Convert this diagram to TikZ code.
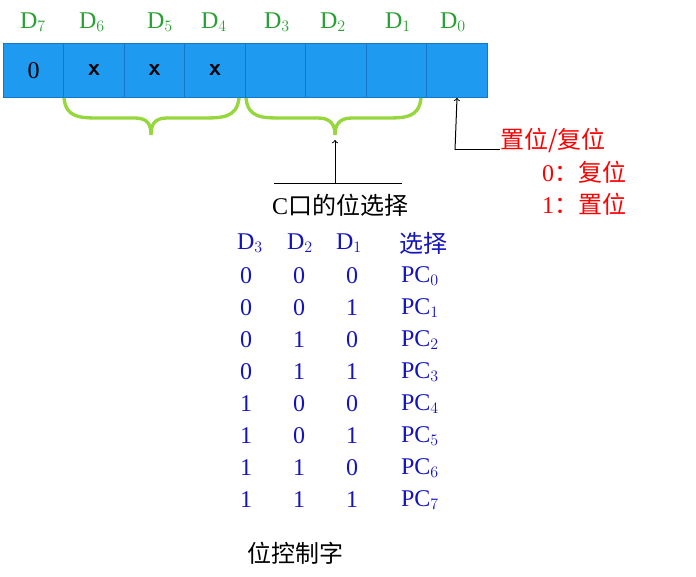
\documentclass[tikz,border=0pt]{standalone}
\usepackage{fontspec}
\setmainfont{Liberation Serif}
\newfontfamily\cjk{Noto Sans CJK SC}
\definecolor{dgreen}{RGB}{40,160,50}
\definecolor{cellblue}{RGB}{30,155,240}
\definecolor{bracegreen}{RGB}{150,215,60}
\definecolor{tblue}{RGB}{20,20,190}
\tikzset{every picture/.style={line width=0.75pt}}
\tikzset{
  cell/.style={draw={rgb,255:red,20;green,120;blue,200},fill=cellblue,minimum width=45.4pt,minimum height=41pt,inner sep=0pt,outer sep=0pt},
  bitlbl/.style={text=dgreen,font=\fontsize{18}{20}\selectfont},
  tbl/.style={text=tblue,font=\fontsize{18}{20}\selectfont},
  brace/.style={draw=bracegreen,line width=2.5pt}
}
\begin{document}
\begin{tikzpicture}[x=0.75pt,y=0.75pt,yscale=-1,xscale=1]
\useasboundingbox (0,0) rectangle (696,577);

% register cells
\foreach \i/\t in {7/0,6/\textsf{\textbf{x}},5/\textsf{\textbf{x}},4/\textsf{\textbf{x}},3/,2/,1/,0/} {
  \node [cell,font=\fontsize{18}{20}\selectfont] (c\i) at ({33.5+60.5*(7-\i)},70.5) {\t};
}
% bit labels
\foreach \i/\xx in {7/33,6/92,5/160,4/214,3/277,2/333,1/398,0/453} {
  \node [bitlbl] (d\i) at (\xx,22) {D$_{\i}$};
}

% braces
\draw [brace] (64,98) .. controls (66,118) and (80,118) .. (100,118) -- (135,118) .. controls (148,118) and (151,125) .. (151,135);
\draw [brace] (239,98) .. controls (237,118) and (222,118) .. (202,118) -- (167,118) .. controls (154,118) and (151,125) .. (151,135);
\draw [brace] (246,98) .. controls (248,118) and (262,118) .. (282,118) -- (318,118) .. controls (331,118) and (335,125) .. (335,135);
\draw [brace] (421,98) .. controls (419,118) and (405,118) .. (385,118) -- (352,118) .. controls (339,118) and (335,125) .. (335,135);

% port C bit select
\coordinate (selbase) at (335,184);
\coordinate (seltip) at (335,140);
\draw [->] (selbase) -- (seltip);
\draw (274,184) -- (402,184);
\node (sel) at (340,205) {\fontsize{18}{20}\selectfont C{\cjk 口的位选择}};

% set/reset
\coordinate (srcorner) at (455,150);
\coordinate (srend) at (500,150);
\draw [->] (srcorner) -- (c0.south);
\draw (srcorner) -- (srend);
\node [text=red,font=\fontsize{18}{20}\selectfont] (sr) at (553,140) {\cjk 置位/复位};
\node [text=red,font=\fontsize{18}{20}\selectfont] (sr0) at (584,172) {0{\cjk ：复位}};
\node [text=red,font=\fontsize{18}{20}\selectfont] (sr1) at (584,204) {1{\cjk ：置位}};

% table
\node [tbl] (h3) at (250,243) {D$_3$};
\node [tbl] (h2) at (300,243) {D$_2$};
\node [tbl] (h1) at (349,243) {D$_1$};
\node [tbl] (hs) at (423,243) {\cjk 选择};
\foreach \r/\a/\b/\c in {0/0/0/0,1/0/0/1,2/0/1/0,3/0/1/1,4/1/0/0,5/1/0/1,6/1/1/0,7/1/1/1} {
  \node [tbl] (r\r a) at (246,{276+32*\r}) {\a};
  \node [tbl] (r\r b) at (299,{276+32*\r}) {\b};
  \node [tbl] (r\r c) at (352,{276+32*\r}) {\c};
  \node [tbl] (r\r p) at (420,{276+32*\r}) {PC$_{\r}$};
}
\node [font=\fontsize{18}{20}\selectfont] (ctl) at (295,553) {\cjk 位控制字};
\end{tikzpicture}
\end{document}
